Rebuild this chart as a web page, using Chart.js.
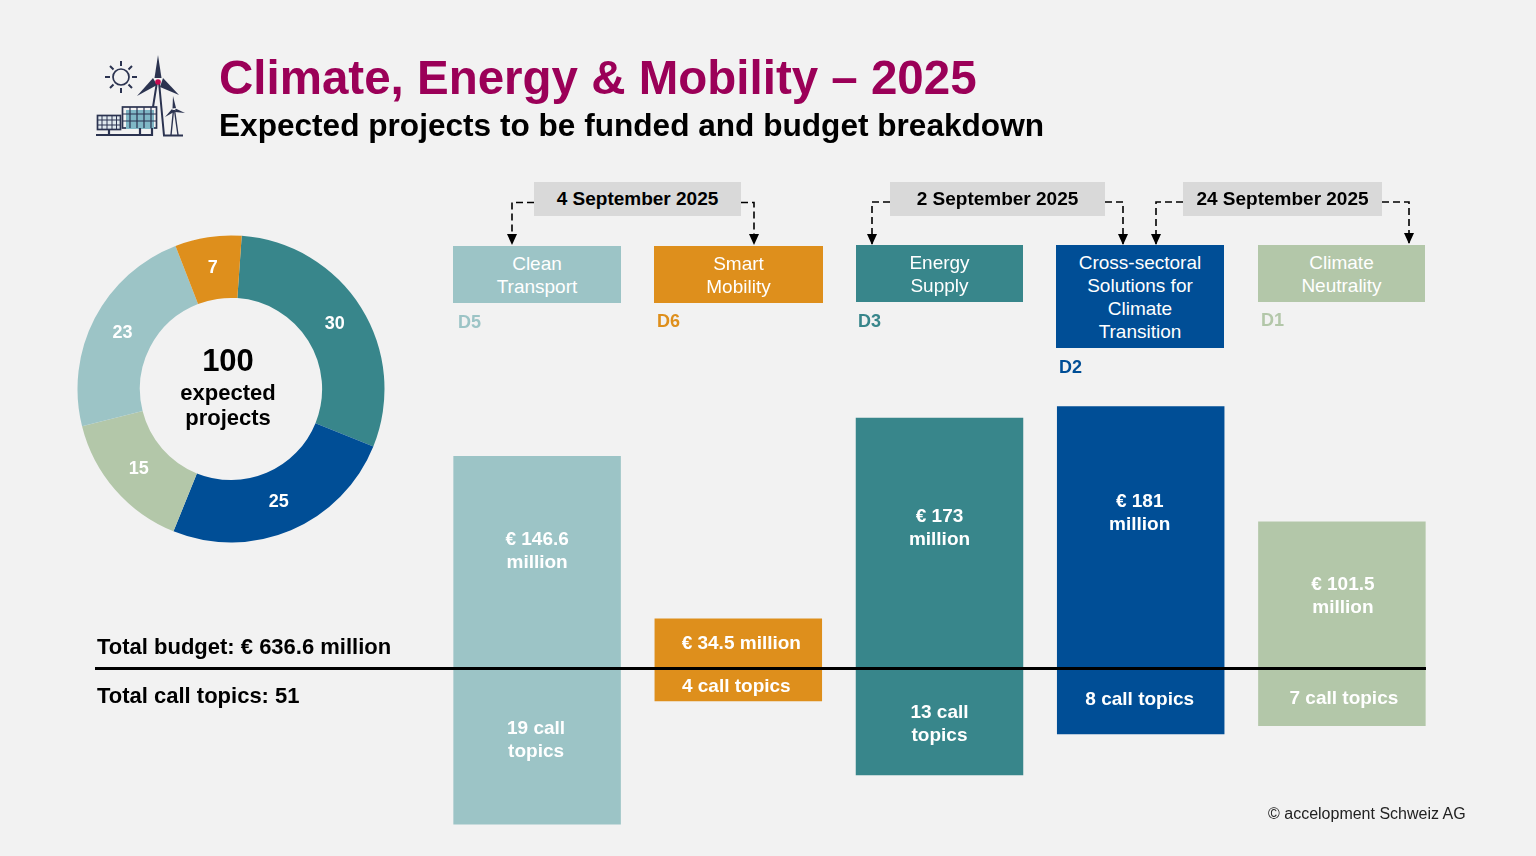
<!DOCTYPE html>
<html lang="en">
<head>
<meta charset="utf-8">
<title>Climate, Energy & Mobility – 2025</title>
<script src="https://cdn.jsdelivr.net/npm/chart.js@4/dist/chart.umd.min.js"></script>
<style>
  html, body { margin: 0; padding: 0; background: #f2f2f2; }
  body { position: relative; width: 1536px; height: 856px; overflow: hidden; font-family: "Liberation Sans", Arial, sans-serif; }
  canvas { position: absolute; }
  #bars { left: 0; top: 0; }
  #donut { left: 75.5px; top: 233.5px; }
  .t { position: absolute; white-space: nowrap; }
  .title { left: 219px; top: 50px; line-height: 56px; font-size: 47.5px; font-weight: bold; color: #9b0058; }
  .subtitle { left: 219px; top: 105px; line-height: 40px; font-size: 31.6px; font-weight: bold; color: #000; }
  .total { left: 97px; line-height: 28px; font-size: 22px; font-weight: bold; color: #000; }
  .date { background: #d9d9d9; text-align: center; font-size: 19px; font-weight: bold; line-height: 34px; height: 34px; top: 182px; color: #000; }
  .box { color: #fff; text-align: center; font-size: 19px; line-height: 23px; display: flex; align-items: center; justify-content: center; white-space: normal; }
  .code { font-size: 18px; font-weight: bold; line-height: 20px; }
  .hole { text-align: center; font-weight: bold; color: #000; left: 128px; width: 200px; }
  .note { left: 1268px; top: 804px; font-size: 16px; line-height: 20px; color: #222; }
  svg { position: absolute; left: 0; top: 0; }
</style>
</head>
<body>
<canvas id="bars" width="1536" height="856"></canvas>
<canvas id="donut" width="310" height="310"></canvas>

<svg width="1536" height="856" viewBox="0 0 1536 856">
  <defs>
    <marker id="head" markerWidth="11" markerHeight="11" refX="10" refY="5.500" orient="auto" markerUnits="userSpaceOnUse">
      <path d="M0 0.500 L11 5.500 L0 10.500 Z" fill="#000"/>
    </marker>
  </defs>
  <!-- connectors from the dates down to the destination boxes -->
  <g fill="none" stroke="#000" stroke-width="1.6" stroke-dasharray="7 4">
    <path d="M534 202.5 H512 V244" marker-end="url(#head)"/>
    <path d="M741 202.5 H754 V244" marker-end="url(#head)"/>
    <path d="M890 202 H872 V244" marker-end="url(#head)"/>
    <path d="M1105 202 H1123 V244" marker-end="url(#head)"/>
    <path d="M1183 202 H1156 V244" marker-end="url(#head)"/>
    <path d="M1382 202 H1409 V243" marker-end="url(#head)"/>
  </g>
  <!-- header icon: sun, panels, turbines -->
  <g fill="none" stroke="#2b3350" stroke-width="1.7">
    <circle cx="121" cy="77" r="8"/>
    <path stroke-width="2" d="M121 61V66M121 88V93M105 77H110M132 77H137M110 66L113.500 69.500M132 66L128.500 69.500M110 88L113.500 84.500M132 88L128.500 84.500"/>
    <rect x="122.500" y="107" width="34" height="21" fill="#f2f2f2"/>
    <rect x="126" y="110" width="28" height="19" fill="#7fb7c6" stroke="none"/>
    <path stroke-width="1.200" d="M122.500 114H156.500M122.500 121H156.500M130 107V128M137 107V128M144 107V128M151 107V128"/>
    <rect x="97.500" y="115.500" width="23" height="14" fill="#dfe8ee"/>
    <path stroke-width="1" d="M97.500 120H120.500M97.500 125H120.500M102 115.500V129.500M107 115.500V129.500M112 115.500V129.500M116.500 115.500V129.500"/>
    <path stroke-width="2.200" d="M96 135H152V128M109 129.500V135M140 128V135"/>
    <path stroke-width="2" d="M157 82L153 107M159 82L164 135.500H183"/>
    <path stroke-width="1.400" d="M173.500 110L171 135M174.500 110L178 135"/>
  </g>
  <g fill="#2b3350">
    <path d="M158 55L161.500 78L154.500 78Z"/>
    <path d="M137 96L153 78L157 85Z"/>
    <path d="M179 95L160 87L163 78Z"/>
    <path d="M173 96L176 108L172.500 108.500Z"/>
    <path d="M165 117L172 109L174 112Z"/>
    <path d="M185 113L175 112L175.500 108.500Z"/>
  </g>
  <circle cx="158" cy="82" r="2.800" fill="#c40a4f"/>
</svg>

<div class="t title">Climate, Energy &amp; Mobility – 2025</div>
<div class="t subtitle">Expected projects to be funded and budget breakdown</div>

<div class="t date" style="left:534px;width:207px">4 September 2025</div>
<div class="t date" style="left:890px;width:215px">2 September 2025</div>
<div class="t date" style="left:1183px;width:199px">24 September 2025</div>

<div class="t box" style="left:453px;top:246px;width:168px;height:57px;background:#9cc4c6">Clean<br>Transport</div>
<div class="t box" style="left:654px;top:246px;width:169px;height:57px;background:#de8f1c">Smart<br>Mobility</div>
<div class="t box" style="left:856px;top:245px;width:167px;height:57px;background:#38868b">Energy<br>Supply</div>
<div class="t box" style="left:1056px;top:245px;width:168px;height:103px;background:#004e96">Cross-sectoral<br>Solutions for<br>Climate<br>Transition</div>
<div class="t box" style="left:1258px;top:245px;width:167px;height:57px;background:#b3c7a9">Climate<br>Neutrality</div>

<div class="t code" style="left:458px;top:312px;color:#9cc4c6">D5</div>
<div class="t code" style="left:657px;top:311px;color:#de8f1c">D6</div>
<div class="t code" style="left:858px;top:311px;color:#38868b">D3</div>
<div class="t code" style="left:1059px;top:357px;color:#004e96">D2</div>
<div class="t code" style="left:1261px;top:310px;color:#b3c7a9">D1</div>

<div class="t hole" style="top:342px;font-size:31px;line-height:38px">100</div>
<div class="t hole" style="top:380px;font-size:22px;line-height:25px">expected<br>projects</div>

<div class="t total" style="top:633px">Total budget: € 636.6 million</div>
<div class="t total" style="top:682px">Total call topics: 51</div>
<div class="t note">© accelopment Schweiz AG</div>

<script>
// columns left to right
const categories = ['Clean Transport', 'Smart Mobility', 'Energy Supply', 'Cross-sectoral Solutions for Climate Transition', 'Climate Neutrality'];
const budgetMillions = [146.6, 34.5, 173, 181, 101.5];
const callTopics = [19, 4, 13, 8, 7];
const budgetLabels = [['€ 146.6', 'million'], ['€ 34.5 million'], ['€ 173', 'million'], ['€ 181', 'million'], ['€ 101.5', 'million']];
const topicLabels = [['19 call', 'topics'], ['4 call topics'], ['13 call', 'topics'], ['8 call topics'], ['7 call topics']];
const colors = ['#9cc4c6', '#de8f1c', '#38868b', '#004e96', '#b3c7a9'];

// share of expected projects per destination, clockwise
const donutLabels = ['Energy Supply', 'Cross-sectoral', 'Climate Neutrality', 'Clean Transport', 'Smart Mobility'];
const donutValues = [30, 25, 15, 23, 7];
const donutColors = ['#38868b', '#004e96', '#b3c7a9', '#9cc4c6', '#de8f1c'];

// both value axes meet at the same zero line
const budgetMax = 200;
const topicsMax = 20;
const above = 289.8, below = 164.1;

// labels are not quite centred on every bar
const budgetNudgeY = [-11, 0, -15, -24, 1];
const budgetNudgeX = [0, 3, 0, -1, 1];
const topicNudgeY = [-6, 2, 2, -2, 2];
const topicNudgeX = [-1, -2, 0, -1, 2];

const barLabels = {
  id: 'barLabels',
  afterDatasetsDraw(chart) {
    const { ctx } = chart;
    const zero = chart.scales.y.getPixelForValue(0);

    // total line runs across the whole page, over the bars
    ctx.save();
    ctx.strokeStyle = '#000';
    ctx.lineWidth = 3;
    ctx.beginPath();
    ctx.moveTo(95, zero);
    ctx.lineTo(1426, zero);
    ctx.stroke();

    ctx.fillStyle = '#fff';
    ctx.font = 'bold 19px "Liberation Sans", Arial, sans-serif';
    ctx.textAlign = 'center';
    ctx.textBaseline = 'middle';
    const put = (lines, x, y) => {
      lines.forEach((line, i) => ctx.fillText(line, x, y + (i - (lines.length - 1) / 2) * 23));
    };
    chart.getDatasetMeta(0).data.forEach((bar, i) => {
      put(budgetLabels[i], bar.x + budgetNudgeX[i], (bar.y + bar.base) / 2 + budgetNudgeY[i]);
    });
    chart.getDatasetMeta(1).data.forEach((bar, i) => {
      put(topicLabels[i], bar.x + topicNudgeX[i], (bar.y + bar.base) / 2 + topicNudgeY[i]);
    });
    ctx.restore();
  }
};

new Chart(document.getElementById('bars'), {
  type: 'bar',
  data: {
    labels: categories,
    datasets: [
      { label: 'Budget', data: budgetMillions, backgroundColor: colors, yAxisID: 'y', grouped: false },
      { label: 'Call topics', data: callTopics, backgroundColor: colors, yAxisID: 'yTopics', grouped: false }
    ]
  },
  options: {
    responsive: false,
    animation: false,
    barPercentage: 1,
    categoryPercentage: 0.8325,
    layout: { padding: { left: 436.5, right: 93.5, top: 378.7, bottom: 23.4 } },
    plugins: { legend: { display: false }, tooltip: { enabled: false } },
    scales: {
      x: { display: false },
      y: { display: false, min: -budgetMax * below / above, max: budgetMax },
      yTopics: { display: false, reverse: true, min: -topicsMax * above / below, max: topicsMax }
    }
  },
  plugins: [barLabels]
});

const donutNumbers = {
  id: 'donutNumbers',
  afterDatasetsDraw(chart) {
    const { ctx } = chart;
    ctx.save();
    ctx.fillStyle = '#fff';
    ctx.font = 'bold 18px "Liberation Sans", Arial, sans-serif';
    ctx.textAlign = 'center';
    ctx.textBaseline = 'middle';
    chart.getDatasetMeta(0).data.forEach((arc, i) => {
      const p = arc.tooltipPosition();
      ctx.fillText(String(donutValues[i]), p.x, p.y);
    });
    ctx.restore();
  }
};

new Chart(document.getElementById('donut'), {
  type: 'doughnut',
  data: {
    labels: donutLabels,
    datasets: [{ data: donutValues, backgroundColor: donutColors, borderWidth: 0 }]
  },
  options: {
    responsive: false,
    animation: false,
    rotation: 4,
    radius: 153.5,
    cutout: 92,
    plugins: { legend: { display: false }, tooltip: { enabled: false } }
  },
  plugins: [donutNumbers]
});
</script>
</body>
</html>
